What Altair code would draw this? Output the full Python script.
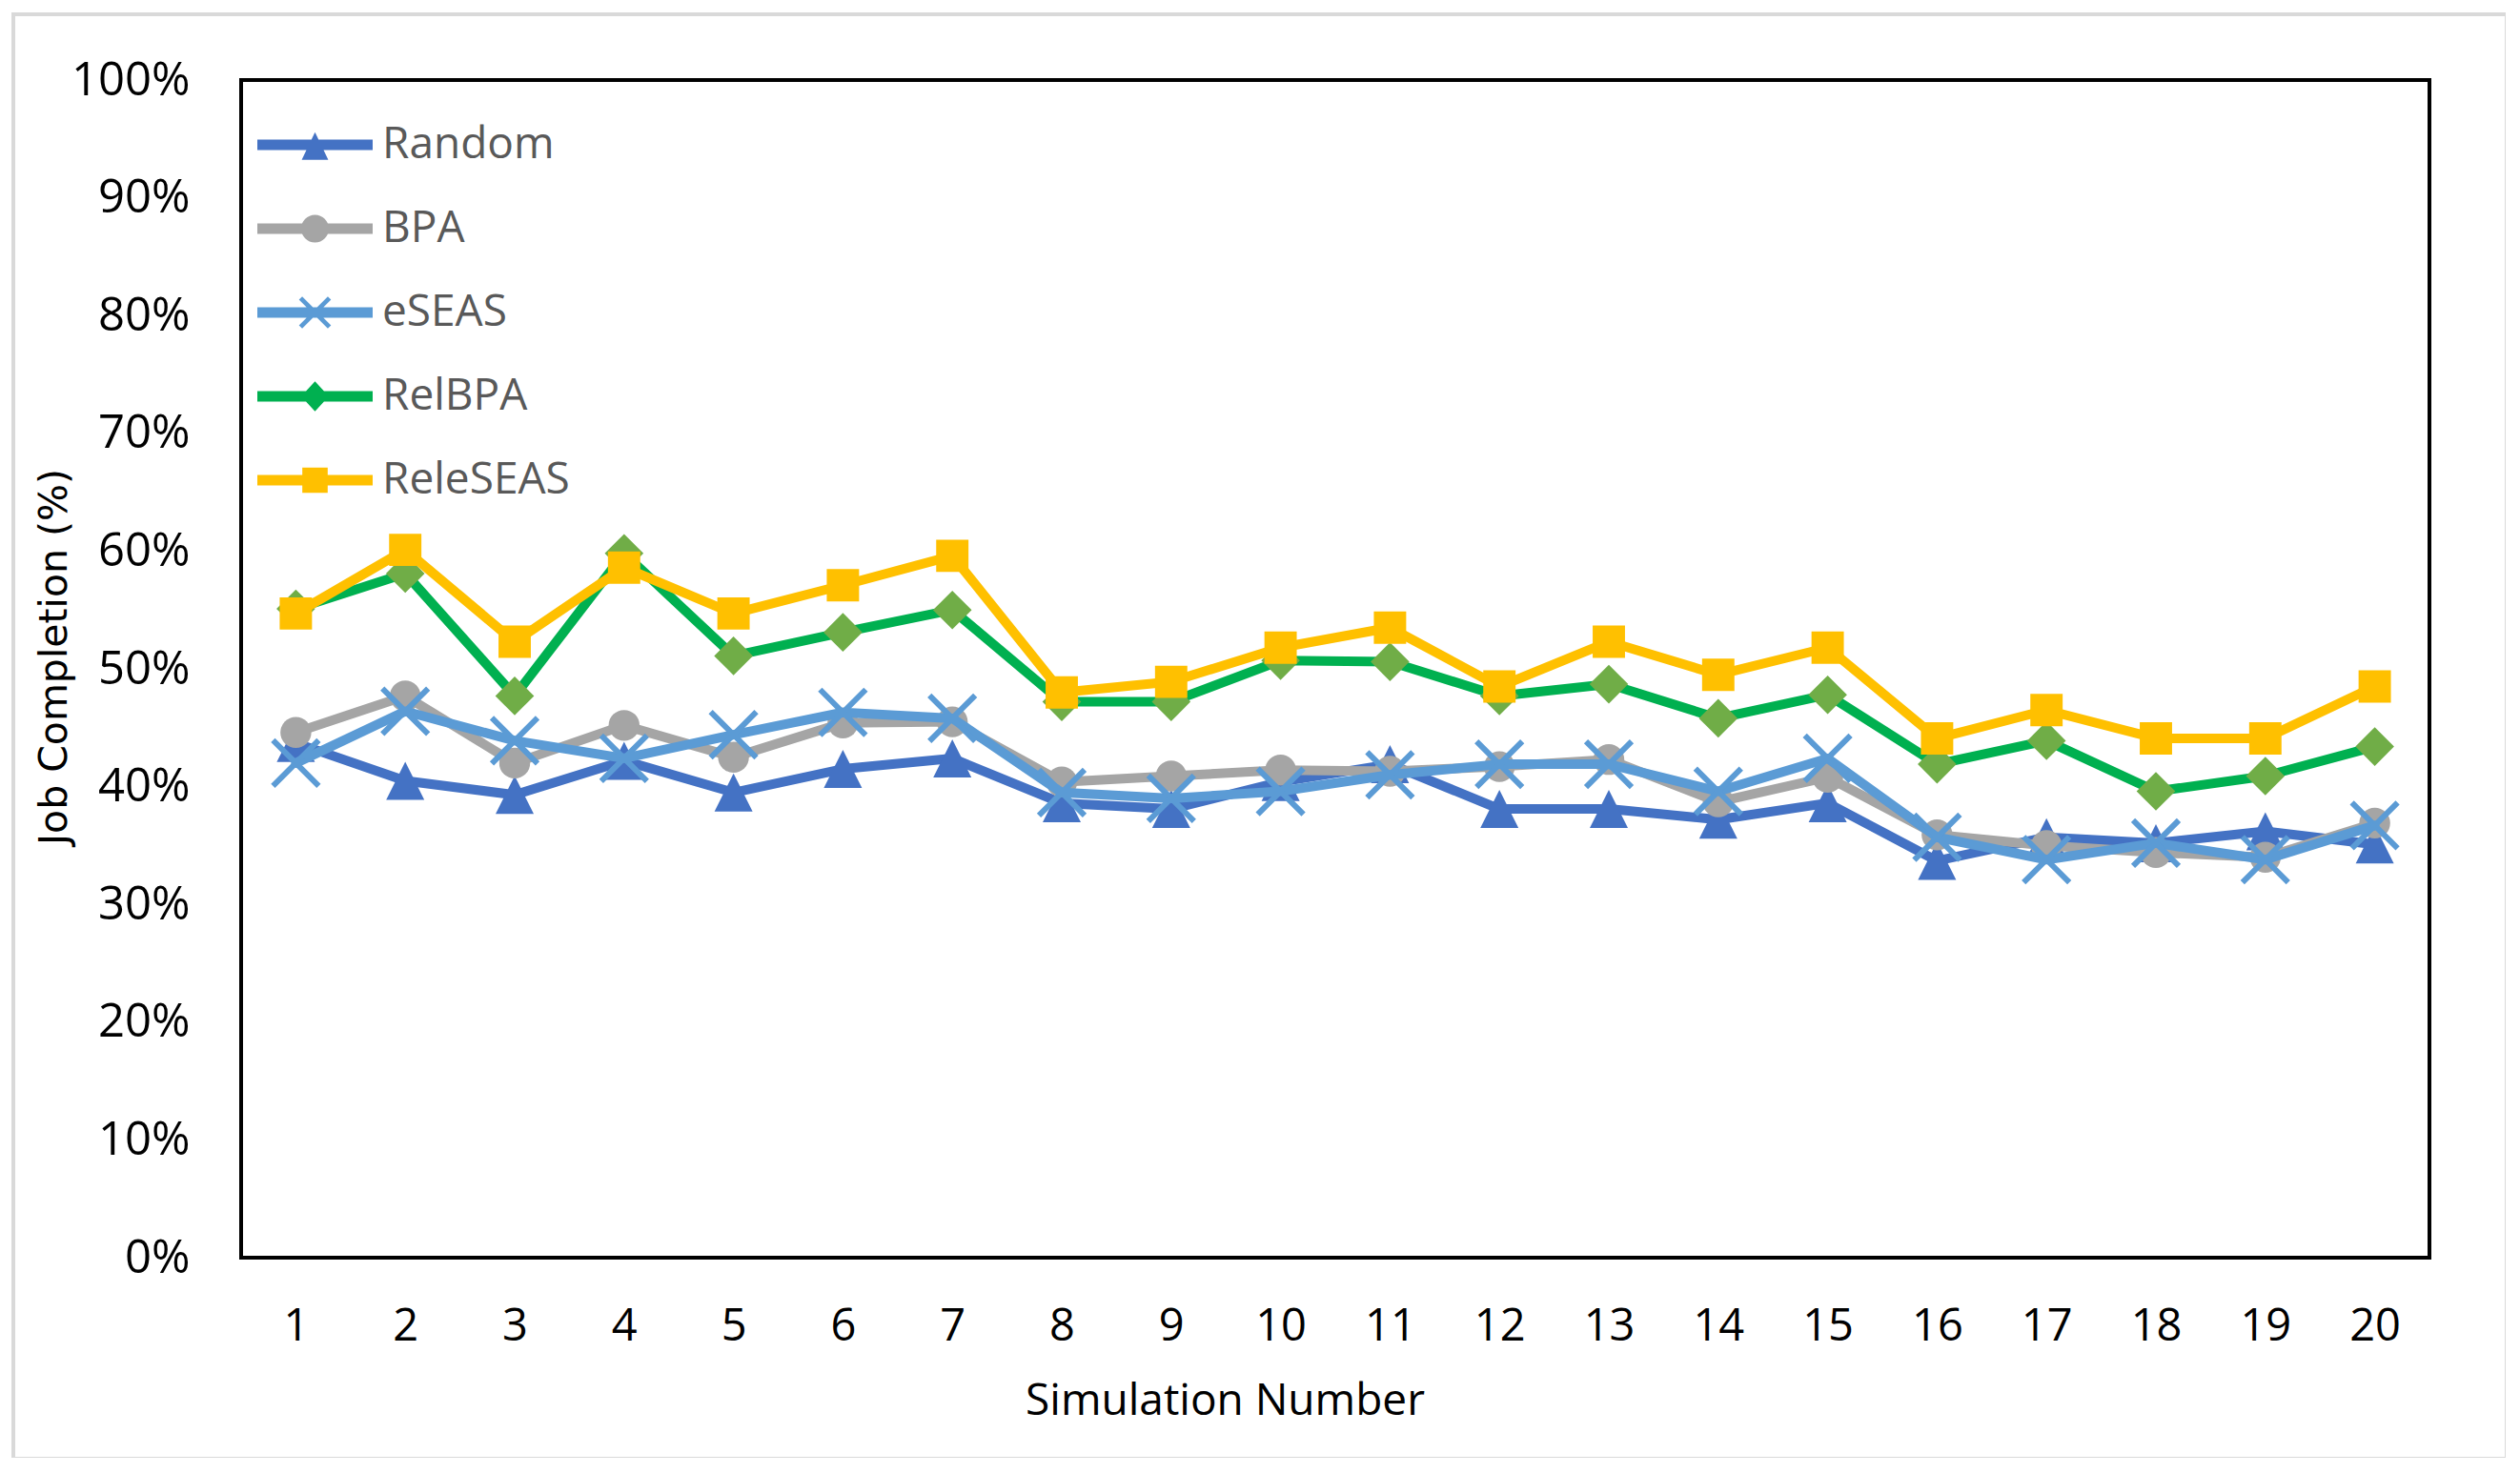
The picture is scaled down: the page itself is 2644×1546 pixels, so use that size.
import altair as alt
import pandas as pd

# ---------------- data (in %) ----------------
sims = list(range(1, 21))
series_names = ["Random", "BPA", "eSEAS", "RelBPA", "ReleSEAS"]

random_vals = [43.7, 40.5, 39.3, 42.2, 39.5, 41.5, 42.4, 38.6, 38.1, 40.4,
               41.9, 38.1, 38.1, 37.2, 38.6, 33.7, 35.7, 35.2, 36.2, 35.1]
bpa_vals = [44.6, 47.7, 42.0, 45.2, 42.5, 45.4, 45.5, 40.4, 40.9, 41.4,
            41.3, 41.7, 42.3, 38.7, 40.8, 35.9, 35.0, 34.4, 34.0, 36.9]
eseas_vals = [42.0, 46.4, 43.9, 42.4, 44.4, 46.3, 45.8, 39.5, 39.0, 39.6,
              41.0, 41.9, 41.9, 39.6, 42.4, 35.7, 33.8, 35.2, 33.8, 36.7]
relbpa_vals = [55.1, 58.1, 47.7, 59.8, 51.1, 53.1, 55.0, 47.2, 47.2, 50.7,
               50.6, 47.7, 48.7, 45.8, 47.8, 41.9, 43.9, 39.6, 40.9, 43.4]
releseas_vals = [54.7, 60.1, 52.3, 58.6, 54.7, 57.1, 59.6, 48.0, 48.9, 51.8,
                 53.5, 48.5, 52.3, 49.5, 51.8, 44.1, 46.5, 44.1, 44.1, 48.5]

y_ticks = [0, 0.1, 0.2, 0.3, 0.4, 0.5, 0.6, 0.7, 0.8, 0.9, 1.0]

all_vals = [random_vals, bpa_vals, eseas_vals, relbpa_vals, releseas_vals]
rows = []
for name, vals in zip(series_names, all_vals):
    for s, v in zip(sims, vals):
        rows.append({"sim": s, "series": name, "value": v / 100.0})
df = pd.DataFrame(rows)

# ---------------- styles ----------------
line_colors = {"Random": "#4472C4", "BPA": "#A5A5A5", "eSEAS": "#5B9BD5",
               "RelBPA": "#00B050", "ReleSEAS": "#FFC000"}
marker_colors = {"Random": "#4472C4", "BPA": "#A5A5A5", "eSEAS": "#5B9BD5",
                 "RelBPA": "#70AD47", "ReleSEAS": "#FFC000"}
TRI = "M0,-1L1,1L-1,1Z"
XSHAPE = "M-1,-1L1,1M-1,1L1,-1"
marker_style = {
    "Random": dict(shape=TRI, filled=True, size=1600),
    "BPA": dict(shape="circle", filled=True, size=1050),
    "eSEAS": dict(shape=XSHAPE, filled=False, size=2300, strokeWidth=6),
    "RelBPA": dict(shape="diamond", filled=True, size=1650),
    "ReleSEAS": dict(shape="square", filled=True, size=1150),
}

BAR = "M-1,-0.09H1V0.09H-1Z"
legend_paths = [
    BAR + "M0,-0.22L0.23,0.26H-0.23Z",
    BAR + "M-0.24,0A0.24,0.24,0,1,1,0.24,0A0.24,0.24,0,1,1,-0.24,0Z",
    BAR + "M-0.222,-0.278L0.278,0.222L0.222,0.278L-0.278,-0.222Z"
        + "M-0.222,0.278L-0.278,0.222L0.222,-0.278L0.278,-0.222Z",
    BAR + "M0,-0.26L0.24,0L0,0.26L-0.24,0Z",
    BAR + "M-0.22,-0.22H0.22V0.22H-0.22Z",
]
legend_colors = [line_colors[n] for n in series_names]

W, H = 2296, 1236
FONT = "Open Sans"

x_enc = alt.X(
    "sim:O",
    scale=alt.Scale(type="point", padding=0.5),
    axis=alt.Axis(
        title="Simulation Number", labelAngle=0, labelFont=FONT, labelFontSize=47,
        labelColor="black", labelPadding=72, labelBaseline="middle",
        ticks=False, tickSize=0, domain=False, grid=False,
        titleFont=FONT, titleFontSize=46, titleColor="black", titleFontWeight="normal",
        titleX=1032, titleY=150, titleAlign="center", titleBaseline="middle",
    ),
)
y_enc = alt.Y(
    "value:Q",
    scale=alt.Scale(domain=[0, 1], nice=False),
    axis=alt.Axis(
        values=y_ticks, format=".0%", labelFont=FONT, labelFontSize=49,
        labelColor="black", labelPadding=54, ticks=False, tickSize=0,
        domain=False, grid=False,
        title="Job Completion (%)", titleFont="DejaVu Sans", titleFontSize=41,
        titleColor="black", titleFontWeight="normal", titleAngle=270,
        titleX=-196, titleY=605, titleAlign="center", titleBaseline="middle",
    ),
)

layers = []
border = alt.Chart(alt.Data(values=[{"a": 1}])).mark_rect(
    fillOpacity=0, stroke="#D9D9D9", strokeWidth=4
).encode(x=alt.value(-239), x2=alt.value(2377), y=alt.value(-69), y2=alt.value(1447))
layers.append(border)

for name in series_names:
    base = alt.Chart(df).transform_filter(alt.datum.series == name)
    layers.append(
        base.mark_line(color=line_colors[name], strokeWidth=10,
                       strokeJoin="round", strokeCap="round").encode(x=x_enc, y=y_enc)
    )
    st = marker_style[name]
    kw = dict(shape=st["shape"], filled=st["filled"], size=st["size"], opacity=1)
    if st["filled"]:
        kw.update(color=marker_colors[name], strokeWidth=0)
    else:
        kw.update(color=marker_colors[name], strokeWidth=st["strokeWidth"])
    layers.append(base.mark_point(**kw).encode(x=x_enc, y=y_enc))

leg = alt.Legend(
    title=None, orient="none", legendX=17, legendY=7.5, padding=0,
    labelFont=FONT, labelFontSize=46, labelColor="#595959", labelOffset=10,
    labelLimit=600, symbolSize=14641, symbolStrokeWidth=0, symbolOpacity=1,
    rowPadding=4,
)
legend_layer = alt.Chart(df).mark_point(filled=True, opacity=0, size=10).encode(
    x=x_enc, y=y_enc,
    color=alt.Color("series:N", sort=series_names,
                    scale=alt.Scale(domain=series_names, range=legend_colors), legend=leg),
    shape=alt.Shape("series:N", sort=series_names,
                    scale=alt.Scale(domain=series_names, range=legend_paths), legend=leg),
)
layers.append(legend_layer)

chart = alt.layer(*layers).properties(
    width=W, height=H,
    background="white",
    autosize=alt.AutoSizeParams(type="none"),
    padding={"left": 245, "top": 76, "right": 80, "bottom": 210},
).configure_view(stroke="black", strokeWidth=4)

chart.save("out.html", embed_options={"renderer": "svg", "actions": False})
